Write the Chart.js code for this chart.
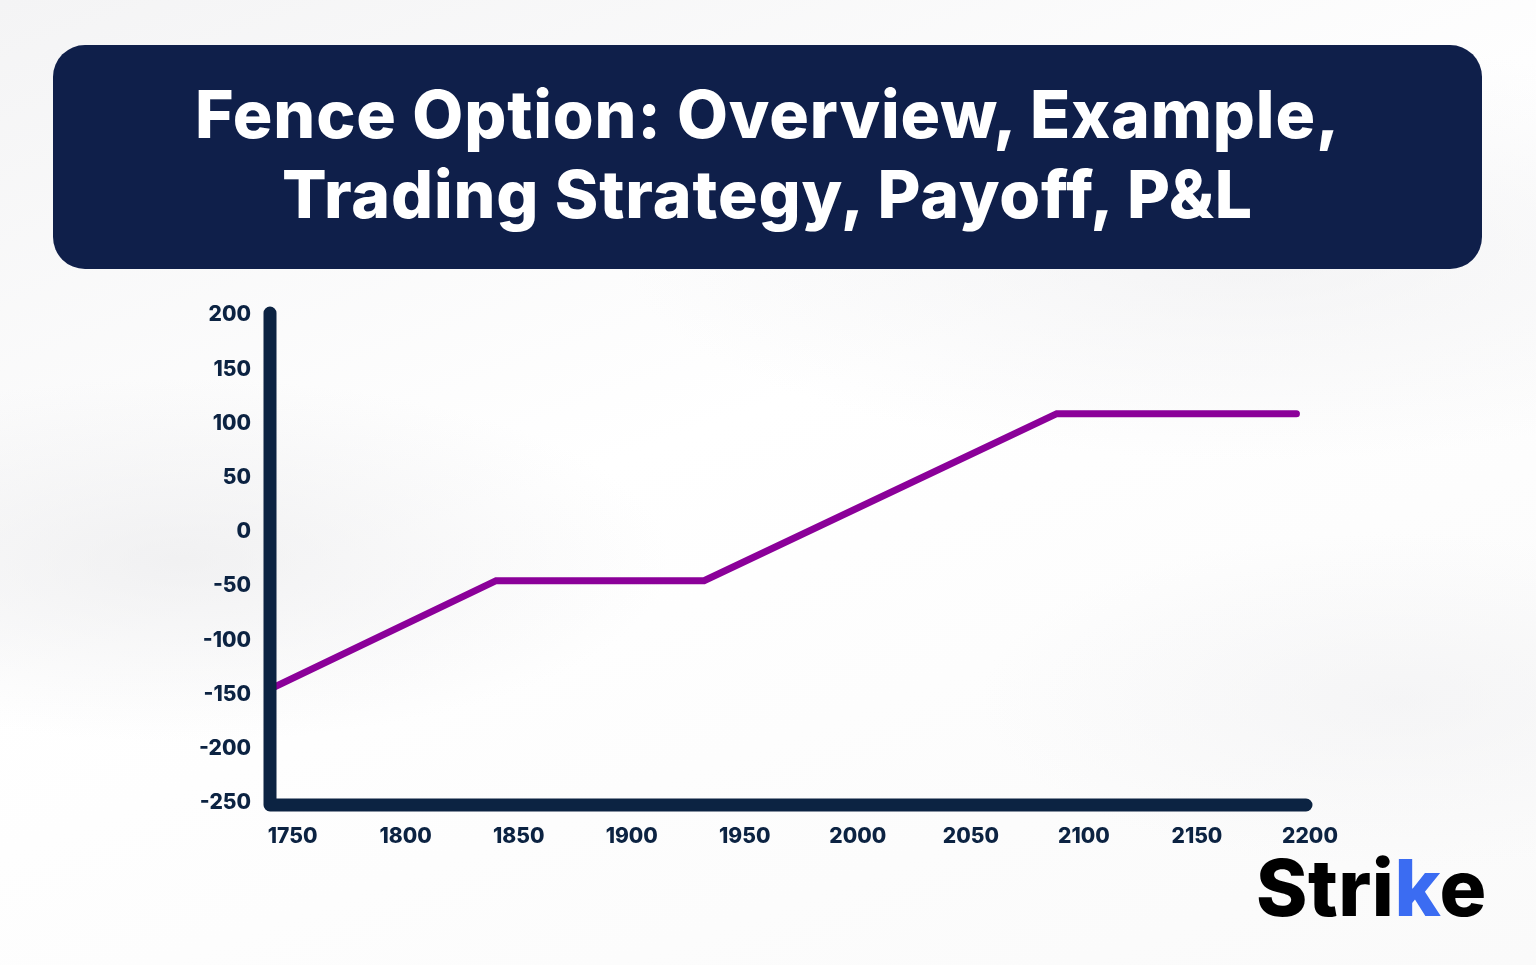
<!DOCTYPE html>
<html>
<head>
<meta charset="utf-8">
<script src="https://cdn.jsdelivr.net/npm/chart.js@4.4.1/dist/chart.umd.min.js"></script>
<style>
  html, body { margin: 0; padding: 0; }
  body {
    width: 1536px; height: 965px; overflow: hidden; position: relative;
    background:
      radial-gradient(ellipse 700px 260px at 180px 560px, rgba(230,230,232,0.55), rgba(255,255,255,0) 70%),
      radial-gradient(ellipse 900px 300px at 1250px 250px, rgba(236,236,238,0.6), rgba(255,255,255,0) 70%),
      radial-gradient(ellipse 600px 240px at 1400px 700px, rgba(238,238,240,0.5), rgba(255,255,255,0) 70%),
      linear-gradient(160deg, #f4f4f5 0%, #ffffff 45%, #fafafa 100%);
    font-family: Inter, "Open Sans", sans-serif;
  }
  #titleBox {
    position: absolute; left: 53px; top: 45px; width: 1429px; height: 224px;
    background: #0f1f4a; border-radius: 32px;
    color: #fff; text-align: center; font-weight: 800; font-size: 66px;
    line-height: 80px; letter-spacing: 0.9px;
    display: flex; flex-direction: column; justify-content: center;
    box-sizing: border-box; padding-bottom: 6px;
  }
  #chartWrap { position: absolute; left: 0; top: 0; width: 1536px; height: 965px; }
  #logo {
    position: absolute; left: 1256px; top: 838px; font-size: 78px; font-weight: 800;
    color: #000; letter-spacing: 0.5px; line-height: 100px;
  }
  #logo .k { color: #3b6cf2; }
</style>
</head>
<body>
<div id="titleBox"><div>Fence Option: Overview, Example,</div><div>Trading Strategy, Payoff, P&amp;L</div></div>
<div id="chartWrap"><canvas id="payoffChart"></canvas></div>
<div id="logo">Stri<span class="k">k</span>e</div>
<script>
// payoff of the fence position (underlying price -> P&L)
const payoffPrice = [1740, 1840, 1932, 2088, 2194];
const payoffValue = [-145, -45, -45, 109, 109];

const xTickValues = [1750, 1800, 1850, 1900, 1950, 2000, 2050, 2100, 2150, 2200];
const yTickValues = [-250, -200, -150, -100, -50, 0, 50, 100, 150, 200];

const navy = '#0c2342';

// thick axis lines with rounded ends, drawn over the line
const axisLines = {
    id: 'axisLines',
    afterDatasetsDraw(chart) {
        const { ctx, chartArea } = chart;
        ctx.save();
        ctx.strokeStyle = navy;
        ctx.lineWidth = 13;
        ctx.lineCap = 'round';
        ctx.lineJoin = 'round';
        ctx.beginPath();
        ctx.moveTo(chartArea.left, chartArea.top - 2);
        ctx.lineTo(chartArea.left, chartArea.bottom + 2);
        ctx.lineTo(chartArea.right - 4, chartArea.bottom + 2);
        ctx.stroke();
        ctx.restore();
    }
};

const ctx_payoff = document.getElementById('payoffChart');
new Chart(ctx_payoff, {
    type: 'line',
    data: {
        datasets: [
            {
                data: payoffPrice.map((p, i) => ({ x: p, y: payoffValue[i] })),
                borderColor: '#8b0099',
                borderWidth: 7,
                borderCapStyle: 'round',
                borderJoinStyle: 'miter',
                pointRadius: 0,
                tension: 0
            }
        ]
    },
    options: {
        responsive: true,
        maintainAspectRatio: false,
        animation: false,
        layout: { padding: { left: 0, right: 226, top: 315, bottom: 0 } },
        plugins: {
            legend: { display: false },
            tooltip: { enabled: false }
        },
        scales: {
            x: {
                type: 'linear',
                min: 1740,
                max: 2200,
                afterBuildTicks: axis => { axis.ticks = xTickValues.map(v => ({ value: v })); },
                afterFit: axis => { axis.height = 162; },
                grid: { display: false, drawTicks: false },
                border: { display: false },
                ticks: {
                    color: navy,
                    padding: 21,
                    maxRotation: 0,
                    callback: v => String(v),
                    font: { family: 'Inter', size: 21, weight: '800' }
                }
            },
            y: {
                min: -250,
                max: 200,
                afterBuildTicks: axis => { axis.ticks = yTickValues.map(v => ({ value: v })); },
                afterFit: axis => { axis.width = 270; },
                grid: { display: false, drawTicks: false },
                border: { display: false },
                ticks: {
                    color: navy,
                    padding: 19,
                    callback: v => String(v),
                    font: { family: 'Inter', size: 21, weight: '800' }
                }
            }
        }
    },
    plugins: [axisLines]
});
</script>
</body>
</html>
